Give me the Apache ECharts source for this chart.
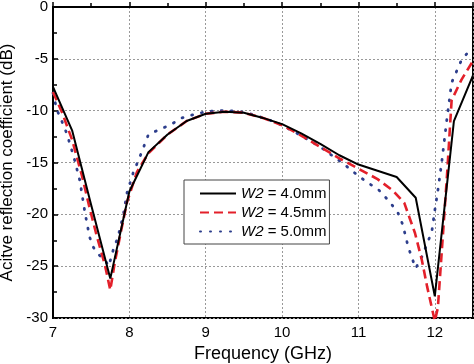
<!DOCTYPE html>
<html>
<head>
<meta charset="utf-8">
<script src="https://cdn.jsdelivr.net/npm/echarts@6/dist/echarts.min.js"></script>
<style>
html,body{margin:0;padding:0;background:#fff;}
#c{width:474px;height:364px;}
</style>
</head>
<body>
<div id="c"></div>
<script>
// Data
var seriesNames = ['W2 = 4.0mm', 'W2 = 4.5mm', 'W2 = 5.0mm'];
var freq40 = [7, 7.25, 7.5, 7.75, 8, 8.25, 8.5, 8.75, 9, 9.25, 9.5, 9.75, 10, 10.25, 10.5, 10.75, 11, 11.25, 11.5, 11.75, 12, 12.25, 12.5];
var val40  = [-7.7, -11.9, -19.1, -26.2, -17.8, -14.0, -12.3, -11.0, -10.3, -10.1, -10.2, -10.7, -11.3, -12.2, -13.2, -14.3, -15.2, -15.8, -16.4, -18.4, -27.9, -11.0, -6.6];
var freq45 = [7, 7.12, 7.25, 7.38, 7.48, 7.57, 7.68, 7.75, 7.81, 7.9, 7.97, 8.1, 8.25, 8.5, 8.75, 9, 9.25, 9.5, 9.75, 10, 10.25, 10.5, 10.75, 11, 11.25, 11.45, 11.6, 11.74, 11.83, 11.9, 12.0, 12.04, 12.09, 12.16, 12.22, 12.35, 12.5];
var val45  = [-8.2, -10.2, -12.8, -16.3, -19.4, -22.0, -24.9, -27.3, -24.6, -21.3, -18.8, -15.9, -14.1, -12.3, -11.0, -10.3, -10.1, -10.2, -10.7, -11.4, -12.4, -13.5, -14.6, -15.6, -16.6, -17.7, -18.9, -21.8, -24.4, -27.0, -30.3, -29.0, -23.7, -16.2, -9.0, -7.0, -5.2];
var freq50 = [7, 7.05, 7.12, 7.18, 7.27, 7.35, 7.42, 7.48, 7.53, 7.6, 7.68, 7.73, 7.79, 7.85, 7.92, 7.97, 8.05, 8.14, 8.25, 8.4, 8.53, 8.69, 8.83, 9.0, 9.15, 9.3, 9.45, 9.58, 9.8, 10, 10.25, 10.5, 10.65, 10.8, 10.95, 11.11, 11.26, 11.41, 11.52, 11.58, 11.65, 11.7, 11.75, 11.83, 11.9, 11.96, 12.0, 12.04, 12.09, 12.16, 12.22, 12.35, 12.48];
var val50  = [-8.3, -9.9, -11.1, -12.2, -14.4, -16.7, -19.9, -22.2, -23.2, -23.9, -24.4, -25.0, -23.4, -22.2, -20.1, -17.9, -16.0, -14.4, -12.3, -11.8, -11.4, -10.7, -10.4, -10.1, -10.0, -10.0, -10.1, -10.3, -10.8, -11.4, -12.4, -13.5, -14.3, -15.1, -16.0, -16.9, -17.6, -18.8, -19.9, -21.0, -23.1, -24.2, -25.2, -24.1, -22.8, -21.7, -19.6, -17.7, -15.0, -10.7, -7.3, -5.1, -4.0];
var xTicks = [7, 8, 9, 10, 11, 12];
var yTicks = [-30, -25, -20, -15, -10, -5, 0];

function pairs(xs, ys){ return xs.map(function(x,i){ return [x, ys[i]]; }); }

var chart = echarts.init(document.getElementById('c'), null, {renderer:'canvas'});
var font = 'Liberation Sans, Arial, sans-serif';
chart.setOption({
  animation:false,
  backgroundColor:'#fff',
  grid:{left:53, top:7, right:1, bottom:46, containLabel:false, outerBoundsMode:'none',
    show:true, borderColor:'#000', borderWidth:2, backgroundColor:'transparent'},
  legend:{
    left:184, top:180, orient:'vertical',
    backgroundColor:'#fff',
    borderColor:'#444', borderWidth:1,
    padding:[6,3,5,15],
    itemWidth:36, itemHeight:14, itemGap:4,
    itemStyle:{opacity:0},
    data:seriesNames,
    formatter:function(n){ return n.replace('W2', '{i|W2}'); },
    textStyle:{fontFamily:font, fontSize:15, color:'#000', lineHeight:14,
      rich:{i:{fontStyle:'italic', fontFamily:font, fontSize:15, color:'#000'}}}
  },
  xAxis:{
    type:'value', min:xTicks[0], max:12.5, interval:1,
    name:'Frequency (GHz)', nameLocation:'middle', nameGap:25,
    nameTextStyle:{fontFamily:font, fontSize:18, color:'#000'},
    axisLine:{show:true, lineStyle:{color:'#000', width:2}},
    axisTick:{show:true, inside:true, length:5, lineStyle:{color:'#000', width:1.5}},
    minorTick:{show:true, splitNumber:2, length:4, lineStyle:{color:'#000', width:1.5}},
    axisLabel:{fontFamily:font, fontSize:15, color:'#000', margin:7,
      formatter:function(v){ return xTicks.indexOf(v) >= 0 ? String(v) : ''; }},
    splitLine:{show:true, lineStyle:{color:'#999', type:[2,2], width:1}}
  },
  yAxis:{
    type:'value', min:yTicks[0], max:yTicks[yTicks.length-1], interval:5,
    name:'Acitve reflection coefficient (dB)', nameLocation:'middle', nameGap:37,
    nameTextStyle:{fontFamily:font, fontSize:17, color:'#000'},
    axisLine:{show:true, lineStyle:{color:'#000', width:2}},
    axisTick:{show:true, inside:true, length:5, lineStyle:{color:'#000', width:1.5}},
    minorTick:{show:true, splitNumber:2, length:4, lineStyle:{color:'#000', width:1.5}},
    axisLabel:{fontFamily:font, fontSize:15, color:'#000', margin:5},
    splitLine:{show:true, lineStyle:{color:'#999', type:[2,2], width:1}}
  },
  series:[
    {name:seriesNames[0], type:'line', symbol:'none', data:pairs(freq40, val40), z:4,
      lineStyle:{color:'#000', width:2}, itemStyle:{color:'#000'}},
    {name:seriesNames[1], type:'line', symbol:'none', data:pairs(freq45, val45), z:3,
      lineStyle:{color:'#e3202a', width:2.6, type:[9,5]}, itemStyle:{color:'#e3202a'}},
    {name:seriesNames[2], type:'line', symbol:'none', data:pairs(freq50, val50), z:2,
      lineStyle:{color:'#2d3e8c', width:2.8, type:[1,9], cap:'round'}, itemStyle:{color:'#2d3e8c'}}
  ]
});
</script>
</body>
</html>
